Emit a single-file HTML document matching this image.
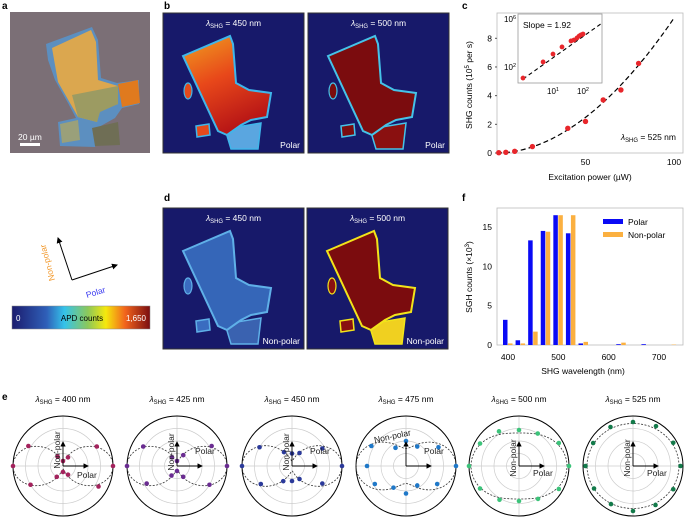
<!DOCTYPE html>
<html><head><meta charset="utf-8"><style>
body{margin:0;background:#fff}
svg{display:block;font-family:"Liberation Sans",sans-serif}
</style></head><body>
<svg id="fig" width="685" height="519" viewBox="0 0 685 519" xmlns="http://www.w3.org/2000/svg">
<defs>
<linearGradient id="jet" x1="0" x2="1" y1="0" y2="0">
<stop offset="0" stop-color="#1b1c6e"/><stop offset="0.25" stop-color="#2f5fb8"/><stop offset="0.38" stop-color="#35c3ea"/><stop offset="0.55" stop-color="#8cc85a"/><stop offset="0.68" stop-color="#f5e80d"/><stop offset="0.82" stop-color="#f2641c"/><stop offset="1" stop-color="#7a0d10"/>
</linearGradient>
<linearGradient id="b1fill" x1="0" y1="0" x2="0.4" y2="1"><stop offset="0" stop-color="#f0a020"/><stop offset="0.5" stop-color="#e8481a"/><stop offset="1" stop-color="#b81616"/></linearGradient>
<marker id="ah" markerWidth="6" markerHeight="6" refX="5" refY="3" orient="auto"><path d="M0,0 L6,3 L0,6 z" fill="#000"/></marker>
</defs>

<g font-weight="bold" font-size="10">
<text x="2" y="9">a</text>
<text x="164" y="9">b</text>
<text x="462" y="9">c</text>
<text x="164" y="201">d</text>
<text x="462" y="201">f</text>
<text x="2" y="400">e</text>
</g>

<g>
<rect x="10" y="12" width="140" height="141" fill="#7b6f76"/>
<polygon points="46,44 92,27 98,40 101,78 117,83 139,80 139,104 122,108 115,118 99,127 95,147 60,146 58,122 76,118 68,103 55,80 48,60" fill="#5c8fc0"/>
<polygon points="52,48 91,30 96,42 98,80 118,86 118,104 100,110 97,122 78,117 70,103 58,82" fill="#dba74f"/>
<polygon points="72,95 118,86 118,104 100,112 97,122 78,117" fill="#9c9b62"/>
<polygon points="118,84 138,80 140,103 122,107" fill="#e07a1e"/>
<polygon points="92,128 118,122 120,145 95,146" fill="#6f6e55"/>
<polygon points="60,124 78,120 80,140 62,143" fill="#9aa07a"/>
<text x="18" y="140" fill="#fff" font-size="8.5">20 µm</text>
<rect x="20" y="143" width="20" height="3" fill="#fff"/>
</g>

<g id="maps"></g>

<g>
<line x1="72" y1="280" x2="58" y2="238" stroke="#000" stroke-width="1" marker-end="url(#ah)"/>
<line x1="72" y1="280" x2="117" y2="265" stroke="#000" stroke-width="1" marker-end="url(#ah)"/>
<text transform="translate(55,280) rotate(-105)" fill="#f29a2e" font-size="8.5">Non-polar</text>
<text transform="translate(87,298) rotate(-17)" fill="#3a3af0" font-size="8.5">Polar</text>
</g>
<g>
<rect x="12" y="306" width="138" height="23" fill="url(#jet)" stroke="#888" stroke-width="0.5"/>
<text x="16" y="321" fill="#fff" font-size="8">0</text>
<text x="82" y="321" fill="#000" font-size="8" text-anchor="middle">APD counts</text>
<text x="146" y="321" fill="#fff" font-size="8" text-anchor="end">1,650</text>
</g>

<g id="panelC"></g>
<g id="panelF"></g>
<g id="panelE"></g>
</svg>
<script>
const NS='http://www.w3.org/2000/svg';
function mk(tag,attrs,parent){const e=document.createElementNS(NS,tag);for(const k in attrs)e.setAttribute(k,attrs[k]);if(parent)parent.appendChild(e);return e;}
function sub(parent,x,y,pre,subs,post,size,anchor,fill){
  const t=mk('text',{x:x,y:y,'font-size':size,'text-anchor':anchor||'start',fill:fill||'#000'},parent);
  const a=document.createElementNS(NS,'tspan');a.textContent=pre;a.setAttribute('font-style','italic');t.appendChild(a);
  const b=document.createElementNS(NS,'tspan');b.textContent=subs;b.setAttribute('dy','2');b.setAttribute('font-size',size*0.7);t.appendChild(b);
  const c=document.createElementNS(NS,'tspan');c.textContent=post;c.setAttribute('dy','-2');t.appendChild(c);
  return t;
}

const mapsG=document.getElementById('maps');
const mapDefs=[
 {x:163,y:13,w:141,h:140,name:'map-polar-450',title:'450',corner:'Polar',fill:'url(#b1fill)',edge:'#3fb6ea',blob:'#5aa6e0',sq:'#e44a1c'},
 {x:308,y:13,w:141,h:140,name:'map-polar-500',title:'500',corner:'Polar',fill:'#7b0c0e',edge:'#45c3e8',blob:'#8a1010',sq:'#7b0c0e'},
 {x:163,y:208,w:141,h:141,name:'map-nonpolar-450',title:'450',corner:'Non-polar',fill:'#3566b8',edge:'#5fb0e8',blob:'#3a62b0',sq:'#3a6cc0'},
 {x:307,y:208,w:141,h:141,name:'map-nonpolar-500',title:'500',corner:'Non-polar',fill:'#7b0c0e',edge:'#f2e41a',blob:'#f0d020',sq:'#8a1010'}
];
const flake=[[20,43],[67,23],[70,31],[73,70],[86,77],[108,80],[104,104],[88,107],[78,112],[64,122],[55,118]];
const blob=[[62,116],[98,110],[95,136],[68,136]];
const sq=[[33,113],[46,111],[47,122],[34,124]];
mapDefs.forEach(m=>{
  const g=mk('g',{},mapsG);
  
  
  mk('rect',{x:m.x,y:m.y,width:m.w,height:m.h,fill:'#17196a',stroke:'#333','stroke-width':1},g);
  const P=a=>a.map(p=>(m.x+p[0])+','+(m.y+p[1])).join(' ');
  mk('polygon',{points:P(blob),fill:m.blob,stroke:m.edge,'stroke-width':1.5},g);
  mk('polygon',{points:P(sq),fill:m.sq,stroke:m.edge,'stroke-width':1.5},g);
  mk('ellipse',{cx:m.x+25,cy:m.y+78,rx:4,ry:8,fill:m.sq,stroke:m.edge,'stroke-width':1.2},g);
  mk('polygon',{points:P(flake),fill:m.fill,stroke:m.edge,'stroke-width':2},g);
  const t=sub(g,m.x+m.w/2,m.y+13,'λ','SHG',' = '+m.title+' nm',8.5,'middle','#fff');
  
  
  const c=mk('text',{x:m.x+m.w-4,y:m.y+m.h-5,'font-size':8.5,'text-anchor':'end',fill:'#fff'},g);
  c.textContent=m.corner;
  
  
});

const cPower=[1,5,10,20,40,50,60,70,80];
const cCounts=[0.02,0.05,0.12,0.45,1.72,2.2,3.7,4.4,6.25];
const cFitK=[0.00136];
const cFitSlope=[1.92];
const cYTicks=[0,2,4,6,8];
const cXTicks=[50,100];
const insetLogX=[0,0.67,1,1.3,1.6,1.7,1.8,1.87,1.93,2];
const insetLogY=[1.08,2.42,3.08,3.67,4.17,4.25,4.42,4.58,4.67,4.75];
(function(){
  const g=document.getElementById('panelC');
  const L=497,R=683,T=13,B=153;
  const X=v=>L+(v-0)*(674-497)/100, Y=v=>153-v*(153-38.3)/8;
  const f=mk('rect',{x:L,y:T,width:R-L,height:B-T,fill:'none',stroke:'#bbb','stroke-width':0.8},g);
  
  cYTicks.forEach(v=>{const t=mk('text',{x:L-5,y:Y(v)+3,'font-size':8.5,'text-anchor':'end'},g);t.textContent=v;
    
    mk('line',{x1:L-2,x2:L,y1:Y(v),y2:Y(v),stroke:'#555'},g);});
  cXTicks.forEach(v=>{const t=mk('text',{x:X(v),y:B+12,'font-size':8.5,'text-anchor':'middle'},g);t.textContent=v;
    });
  let d='';for(let p=0;p<=100;p+=1){const y=cFitK[0]*Math.pow(p,cFitSlope[0]);d+=(p?'L':'M')+X(p).toFixed(1)+','+Y(y).toFixed(1);}
  const fit=mk('path',{d:d,fill:'none',stroke:'#000','stroke-width':1.2,'stroke-dasharray':'5,3'},g);
  
  cPower.forEach((p,i)=>{const c=mk('circle',{cx:X(p),cy:Y(cCounts[i]),r:2.7,fill:'#e8262b'},g);
    });
  const yt=mk('text',{transform:'translate(472,85) rotate(-90)','font-size':8.5,'text-anchor':'middle'},g);
  yt.innerHTML='SHG counts (10<tspan font-size="6" dy="-3">5</tspan><tspan dy="3"> per s)</tspan>';
  
  const xt=mk('text',{x:590,y:180,'font-size':8.5,'text-anchor':'middle'},g);xt.textContent='Excitation power (µW)';
  
  const lab=sub(g,676,140,'λ','SHG',' = 525 nm',8.5,'end');
  const IL=518,IR=602,IT=14,IB=83;
  const IX=v=>523+v*30, IY=v=>67-(v-2)*12;
  const ir=mk('rect',{x:IL,y:IT,width:IR-IL,height:IB-IT,fill:'#fff',stroke:'#999','stroke-width':0.8},g);
  
  [[2,'2'],[6,'6']].forEach(([v,s])=>{const t=mk('text',{x:IL-2,y:IY(v)+3,'font-size':8,'text-anchor':'end'},g);
    t.innerHTML='10<tspan font-size="5.5" dy="-3">'+s+'</tspan>';});
  [[1,'1'],[2,'2']].forEach(([v,s])=>{const t=mk('text',{x:IX(v),y:IB+11,'font-size':8,'text-anchor':'middle'},g);
    t.innerHTML='10<tspan font-size="5.5" dy="-3">'+s+'</tspan>';});
  const il=mk('line',{x1:IX(0),y1:IY(1.0),x2:IX(2.6),y2:IY(5.6),stroke:'#000','stroke-width':1.1,'stroke-dasharray':'4,3'},g);
  
  insetLogX.forEach((v,i)=>{const c=mk('circle',{cx:IX(v),cy:IY(insetLogY[i]),r:2.4,fill:'#e8262b'},g);
    });
  const sl=mk('text',{x:523,y:28,'font-size':8.5},g);sl.textContent='Slope = 1.92';
  
})();

const fWave=[400,425,450,475,500,525,550,625,675,725];
const fPolar=[3.2,0.6,13.3,14.5,16.5,14.2,0.2,0.1,0.1,0];
const fNonPolar=[0.2,0.2,1.7,14.4,16.5,16.5,0.4,0.3,0,0.05];
const fYTicks=[0,5,10,15];
const fXTicks=[400,500,600,700];
(function(){
  const g=document.getElementById('panelF');
  const L=497,R=683,T=208,B=345;
  const X=v=>508+(v-400)*(659-508)/300, Y=v=>B-v*(B-227)/15;
  const f=mk('rect',{x:L,y:T,width:R-L,height:B-T,fill:'none',stroke:'#bbb','stroke-width':0.8},g);
  
  fYTicks.forEach(v=>{const t=mk('text',{x:L-5,y:Y(v)+3,'font-size':8.5,'text-anchor':'end'},g);t.textContent=v;
    });
  fXTicks.forEach(v=>{const t=mk('text',{x:X(v),y:B+15,'font-size':8.5,'text-anchor':'middle'},g);t.textContent=v;
    });
  fWave.forEach((w,i)=>{
    const b1=mk('rect',{x:X(w)-5,y:Y(fPolar[i]),width:4.5,height:Math.max(0,B-Y(fPolar[i])),fill:'#0a0af5'},g);
    
    const b2=mk('rect',{x:X(w),y:Y(fNonPolar[i]),width:4.5,height:Math.max(0,B-Y(fNonPolar[i])),fill:'#fbb040'},g);
    
  });
  const l1=mk('rect',{x:603,y:219,width:20,height:5,fill:'#0a0af5'},g);
  const l2=mk('rect',{x:603,y:232,width:20,height:5,fill:'#fbb040'},g);
  const t1=mk('text',{x:628,y:225,'font-size':8.5},g);t1.textContent='Polar';
  const t2=mk('text',{x:628,y:238,'font-size':8.5},g);t2.textContent='Non-polar';
  const yt=mk('text',{transform:'translate(472,277) rotate(-90)','font-size':8.5,'text-anchor':'middle'},g);
  yt.innerHTML='SGH counts (×10<tspan font-size="6" dy="-3">3</tspan><tspan dy="3">)</tspan>';
  
  const xt=mk('text',{x:583,y:374,'font-size':8.5,'text-anchor':'middle'},g);xt.textContent='SHG wavelength (nm)';
  
})();

const eWaves=[400,425,450,475,500,525];
const eAngles=[0,30,60,90,120,150,180,210,240,270,300,330];
const eR400=[1.0,0.78,0.2,0.1,0.22,0.8,1.0,0.75,0.25,0.12,0.2,0.82];
const eR425=[1.0,0.8,0.25,0.1,0.2,0.78,1.0,0.7,0.22,0.1,0.25,0.75];
const eR450=[1.0,0.7,0.3,0.25,0.32,0.75,1.0,0.72,0.35,0.3,0.3,0.7];
const eR475=[1.0,0.75,0.45,0.5,0.42,0.8,0.78,0.72,0.5,0.55,0.45,0.72];
const eR500=[1.0,0.92,0.75,0.72,0.8,0.9,1.0,0.9,0.78,0.7,0.76,0.92];
const eR525=[0.95,0.93,0.92,0.88,0.9,0.92,0.95,0.9,0.88,0.9,0.9,0.93];
const eFitA=[0.95,0.95,0.9,0.65,0.3,0.07];
const eFitB=[0.05,0.05,0.1,0.35,0.66,0.85];
(function(){
  const g=document.getElementById('panelE');
  const series=[eR400,eR425,eR450,eR475,eR500,eR525];
  const cols=['#a3225c','#6a2c91','#2b3a9a','#1f78c8','#3cc37a','#137a4a'];
  const CX=[63,177,292,406,519,633], CY=466, R=50;
  eWaves.forEach((w,k)=>{
    const cx=CX[k];
    const pg=mk('g',{},g);
    
    
    [0.25,0.5,0.75].forEach(f=>mk('circle',{cx:cx,cy:CY,r:R*f,fill:'none',stroke:'#ccc','stroke-width':0.7},pg));
    mk('line',{x1:cx-R,x2:cx+R,y1:CY,y2:CY,stroke:'#ccc','stroke-width':0.7},pg);
    mk('line',{x1:cx,x2:cx,y1:CY-R,y2:CY+R,stroke:'#ccc','stroke-width':0.7},pg);
    mk('circle',{cx:cx,cy:CY,r:R,fill:'none',stroke:'#000','stroke-width':1},pg);
    let d='';
    for(let a=0;a<=360;a+=3){const t=a*Math.PI/180;const r=R*(eFitA[k]*Math.cos(t)**2+eFitB[k]);
      d+=(a?'L':'M')+(cx+r*Math.cos(t)).toFixed(1)+','+(CY-r*Math.sin(t)).toFixed(1);}
    const fp=mk('path',{d:d+'Z',fill:'none',stroke:'#333','stroke-width':0.8,'stroke-dasharray':'2,1.5'},pg);
    
    eAngles.forEach((a,i)=>{const t=a*Math.PI/180;const r=R*series[k][i];
      const c=mk('circle',{cx:cx+r*Math.cos(t),cy:CY-r*Math.sin(t),r:2.3,fill:cols[k]},pg);
      });
    mk('line',{x1:cx,y1:CY,x2:cx,y2:CY-24,stroke:'#000','stroke-width':0.9,'marker-end':'url(#ah)'},pg);
    mk('line',{x1:cx,y1:CY,x2:cx+25,y2:CY,stroke:'#000','stroke-width':0.9,'marker-end':'url(#ah)'},pg);
    const tt=sub(pg,cx,402,'λ','SHG',' = '+w+' nm',8.5,'middle');
    
    const lp=mk('text',{x:cx+14,y:(k%2===0&&k<3)?CY+12:CY+10,'font-size':8.5,fill:'#222'},pg);
    if(k===1||k===2||k===3){lp.setAttribute('y',CY-12);lp.setAttribute('x',cx+18);}
    lp.textContent='Polar';
    const ln=mk('text',{'font-size':8.5,fill:'#222','text-anchor':'middle'},pg);
    if(k===3){ln.setAttribute('transform','translate('+(cx-13)+','+(CY-27)+') rotate(-12)');}
    else{ln.setAttribute('transform','translate('+(cx-3)+','+(CY-(k===0?6:(k<3?14:8)) - (k===0?10:0))+') rotate(-90)');}
    ln.textContent='Non-polar';
  });
})();
</script>
</body></html>
